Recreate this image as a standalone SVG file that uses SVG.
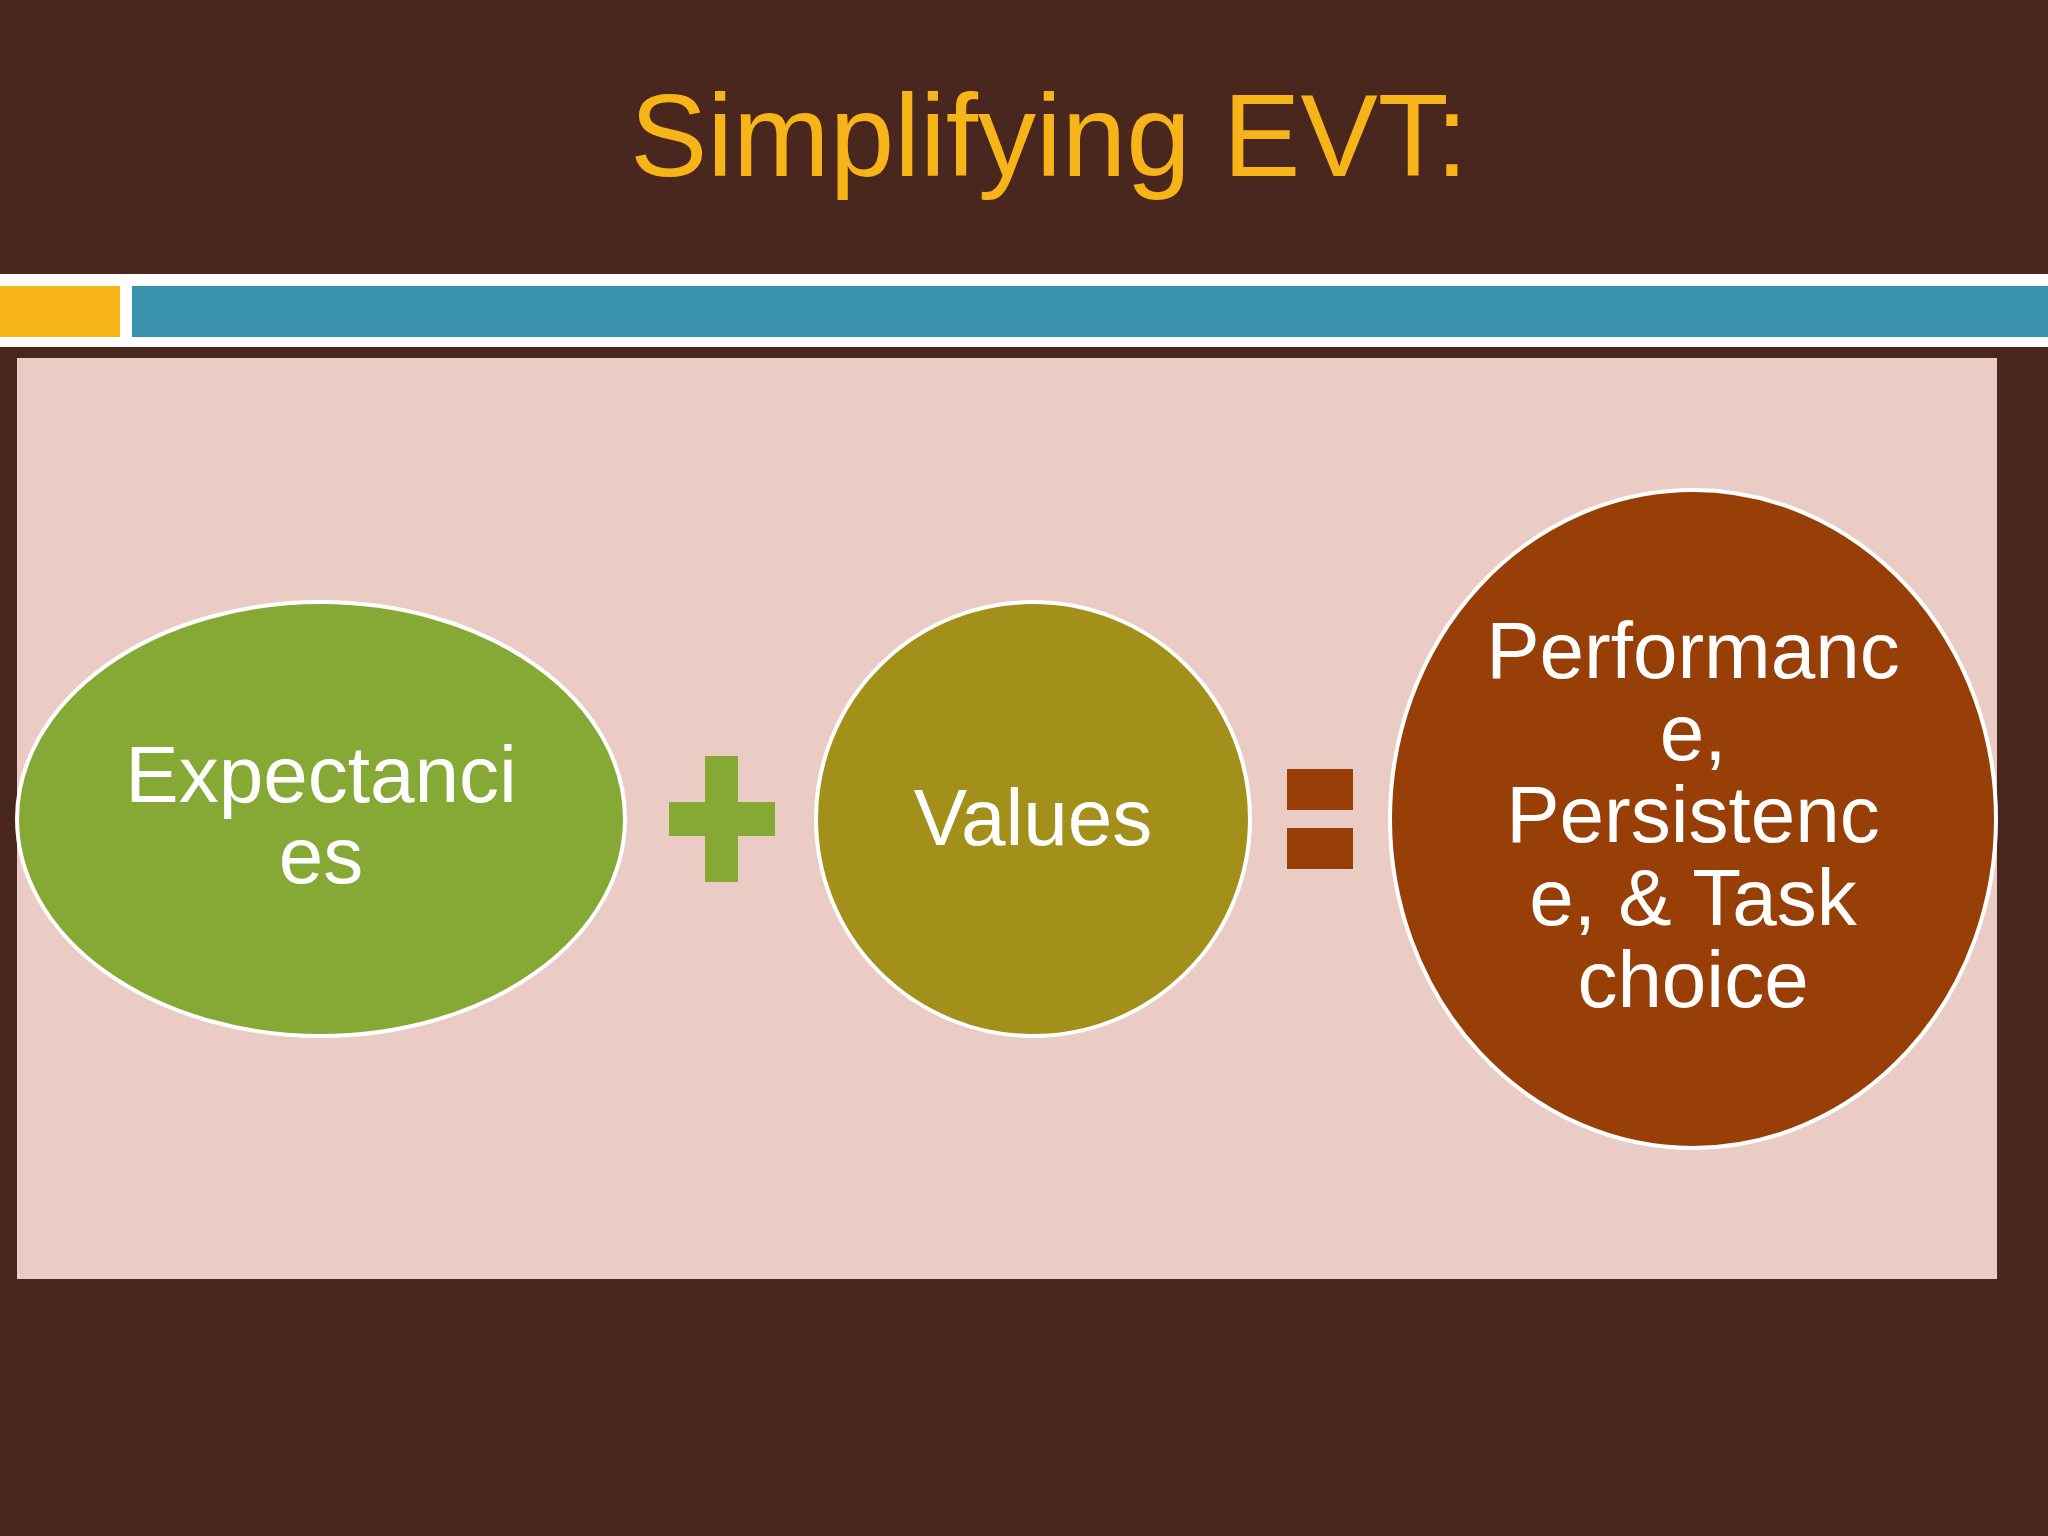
<svg xmlns="http://www.w3.org/2000/svg" width="2048" height="1536" viewBox="0 0 2048 1536">
<style>
.t{font-family:"Liberation Sans",Arial,sans-serif;fill:#fff;font-size:80px;text-anchor:middle}
.n{stroke:#fff;stroke-width:4}
</style>
<rect width="2048" height="1536" fill="#4A271E"/>
<text x="1049" y="176" font-family="Liberation Sans,Arial,sans-serif" font-size="116" fill="#F6B419" text-anchor="middle">Simplifying EVT:</text>
<rect x="0" y="274" width="2048" height="73" fill="#fff"/>
<rect x="0" y="286" width="120" height="51" fill="#F6B419"/>
<rect x="132" y="286" width="1916" height="51" fill="#3A91AB"/>
<rect x="17" y="358" width="1980" height="921" fill="#EACCC5"/>
<g id="expectancies"><ellipse class="n" cx="321" cy="819" rx="304" ry="217" fill="#86A936"/>
<text class="t" x="321" y="802">Expectanci</text><text class="t" x="321" y="883">es</text></g>
<g id="plus"><rect x="705" y="756" width="33" height="126" fill="#86A936"/><rect x="669" y="802" width="106" height="34" fill="#86A936"/></g>
<g id="values"><circle class="n" cx="1033" cy="819" r="217" fill="#A2901A"/>
<text class="t" x="1033" y="845">Values</text></g>
<g id="equals"><rect x="1287" y="769" width="66" height="41" fill="#973F07"/><rect x="1287" y="828" width="66" height="41" fill="#973F07"/></g>
<g id="outcome"><ellipse class="n" cx="1693" cy="819" rx="303" ry="329" fill="#973F07"/>
<text class="t" x="1693" y="678">Performanc</text><text class="t" x="1693" y="760">e,</text><text class="t" x="1693" y="842">Persistenc</text><text class="t" x="1693" y="925">e, &amp; Task</text><text class="t" x="1693" y="1007">choice</text></g>
<g id="connectors"/>
</svg>
